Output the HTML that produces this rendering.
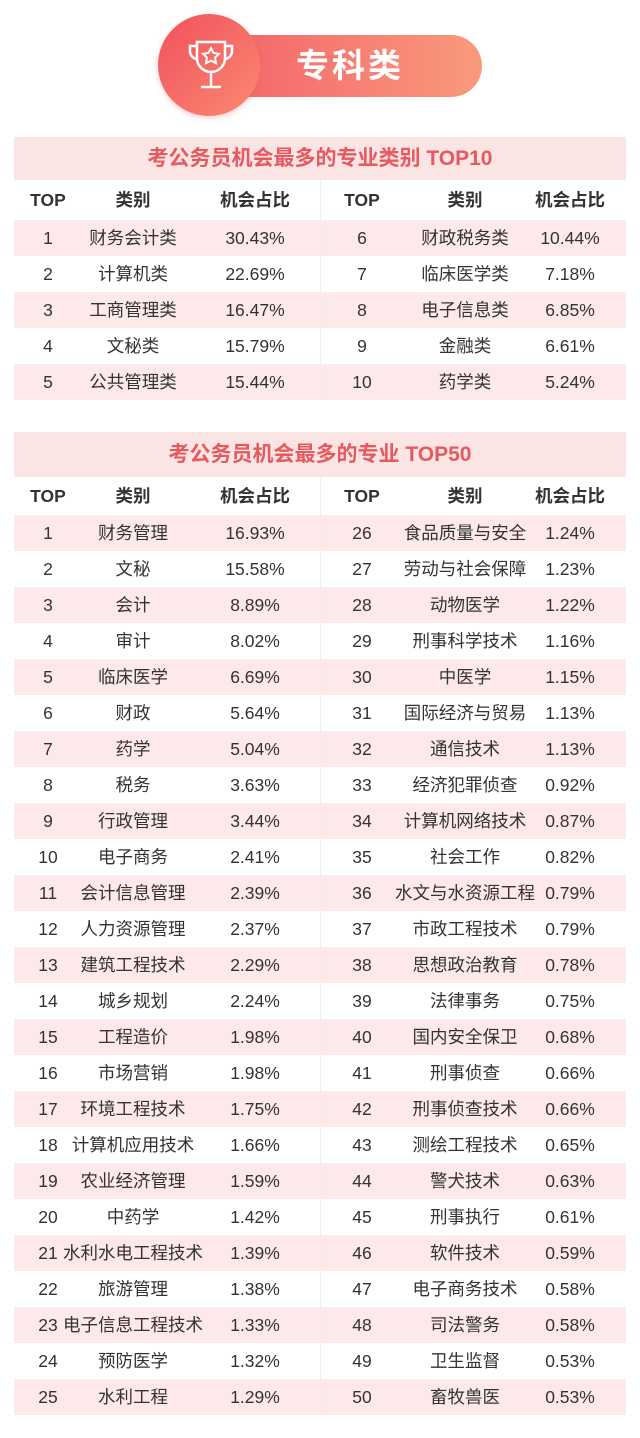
<!DOCTYPE html>
<html><head><meta charset="utf-8"><style>
body{margin:0;width:640px;height:1438px;background:#fff;font-family:"Liberation Sans","Noto Sans CJK SC",sans-serif;color:#333;position:relative;overflow:hidden}
.pill{position:absolute;left:200px;top:35px;width:282px;height:62px;border-radius:31px;background:linear-gradient(90deg,#f4606a,#f99a7c)}
.circ{position:absolute;left:158px;top:14px;width:102px;height:102px;border-radius:51px;background:linear-gradient(135deg,#f2505c,#f98a72);box-shadow:0 2px 6px rgba(240,90,90,.3)}
.bt{position:absolute;left:240px;top:40px;width:220px;text-align:center;color:#fff;font-size:33px;font-weight:bold;letter-spacing:3px;line-height:52px}
.box{position:absolute;left:14px;width:612px}
.ttl{background:#fbe4e4;color:#e45a5e;font-weight:bold;font-size:21px;text-align:center}
.row{height:36px;font-size:17.5px;line-height:36px;position:relative}
.row.p{background:#fde9e9}
.row span{position:absolute;top:0;width:200px;text-align:center;white-space:nowrap}
.hd{font-weight:bold;height:40px;line-height:40px}
.vl{position:absolute;left:306px;top:0;bottom:0;width:1px;background:#eee}
</style></head><body>
<div class="pill"></div><div class="circ"></div>
<svg style="position:absolute;left:183px;top:36px" width="56" height="58" viewBox="0 0 56 58" fill="none" stroke="#fff" stroke-width="2.5"><path d="M14 6h28v16a14 14 0 0 1-28 0z"/><path d="M14 10H7v6a8 8 0 0 0 7 7M42 10h7v6a8 8 0 0 1-7 7"/><path d="M28 36v14M18 51h20"/><path d="M28 12l2.5 5 5.5.8-4 3.9 1 5.5-5-2.6-5 2.6 1-5.5-4-3.9 5.5-.8z" stroke-width="2"/></svg>
<div class="bt">专科类</div>
<div id="t1" class="box" style="top:137px"></div>
<div id="t2" class="box" style="top:432px"></div>
<script>
const C=[48,133,255,362,465,570].map(x=>x-14-100);
function cells(v){return v.map((t,i)=>'<span style="left:'+C[i]+'px">'+t+'</span>').join('');}
function build(el,title,th,hh,rows){
 let h='<div class="ttl" style="height:'+th+'px;line-height:'+th+'px">'+title+'</div><div style="position:relative">';
 h+='<div class="row hd" style="height:'+hh+'px;line-height:'+hh+'px">'+cells(['TOP','类别','机会占比','TOP','类别','机会占比'])+'</div>';
 rows.forEach((r,i)=>{h+='<div class="row'+(i%2==0?' p':'')+'">'+cells(r)+'</div>';});
 h+='<div class="vl"></div></div>';el.innerHTML=h;
}
const a=[[1,'财务会计类','30.43%'],[2,'计算机类','22.69%'],[3,'工商管理类','16.47%'],[4,'文秘类','15.79%'],[5,'公共管理类','15.44%']];
const b=[[6,'财政税务类','10.44%'],[7,'临床医学类','7.18%'],[8,'电子信息类','6.85%'],[9,'金融类','6.61%'],[10,'药学类','5.24%']];
build(document.getElementById('t1'),'考公务员机会最多的专业类别 TOP10',43,40,a.map((x,i)=>x.concat(b[i])));
const n=['财务管理','文秘','会计','审计','临床医学','财政','药学','税务','行政管理','电子商务','会计信息管理','人力资源管理','建筑工程技术','城乡规划','工程造价','市场营销','环境工程技术','计算机应用技术','农业经济管理','中药学','水利水电工程技术','旅游管理','电子信息工程技术','预防医学','水利工程','食品质量与安全','劳动与社会保障','动物医学','刑事科学技术','中医学','国际经济与贸易','通信技术','经济犯罪侦查','计算机网络技术','社会工作','水文与水资源工程','市政工程技术','思想政治教育','法律事务','国内安全保卫','刑事侦查','刑事侦查技术','测绘工程技术','警犬技术','刑事执行','软件技术','电子商务技术','司法警务','卫生监督','畜牧兽医'];
const p=['16.93','15.58','8.89','8.02','6.69','5.64','5.04','3.63','3.44','2.41','2.39','2.37','2.29','2.24','1.98','1.98','1.75','1.66','1.59','1.42','1.39','1.38','1.33','1.32','1.29','1.24','1.23','1.22','1.16','1.15','1.13','1.13','0.92','0.87','0.82','0.79','0.79','0.78','0.75','0.68','0.66','0.66','0.65','0.63','0.61','0.59','0.58','0.58','0.53','0.53'];
const R=[];for(let i=0;i<25;i++){R.push([i+1,n[i],p[i]+'%',i+26,n[i+25],p[i+25]+'%']);}
build(document.getElementById('t2'),'考公务员机会最多的专业 TOP50',45,38,R);
</script>
</body></html>
